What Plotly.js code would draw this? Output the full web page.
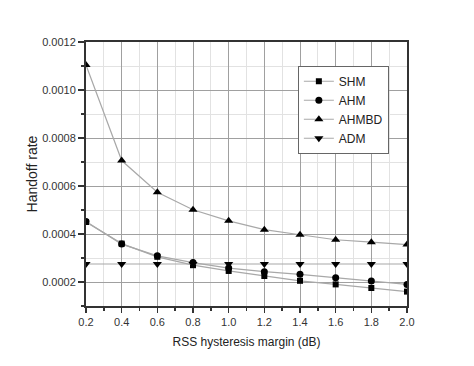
<!DOCTYPE html>
<html>
<head>
<meta charset="utf-8">
<script src="https://cdn.plot.ly/plotly-3.0.1.min.js"></script>
<style>html,body{margin:0;padding:0;background:#fff;}#chart{width:474px;height:366px;}</style>
</head>
<body>
<div id="chart"></div>
<script>
const margins = [0.2, 0.4, 0.6, 0.8, 1.0, 1.2, 1.4, 1.6, 1.8, 2.0];
const shm   = [0.000450, 0.000360, 0.000305, 0.000270, 0.000246, 0.000225, 0.000205, 0.000190, 0.000175, 0.000160];
const ahm   = [0.000452, 0.000358, 0.000309, 0.000281, 0.000258, 0.000243, 0.000232, 0.000218, 0.000204, 0.000190];
const ahmbd = [0.001104, 0.000706, 0.000574, 0.000501, 0.000455, 0.000418, 0.000397, 0.000376, 0.000366, 0.000356];
const adm   = [0.000275, 0.000275, 0.000275, 0.000275, 0.000275, 0.000275, 0.000275, 0.000275, 0.000275, 0.000275];
const yTickVals = [0.0002, 0.0004, 0.0006, 0.0008, 0.0010, 0.0012];
const yTickText = ['0.0002', '0.0004', '0.0006', '0.0008', '0.0010', '0.0012'];
const xTickVals = [0.2, 0.4, 0.6, 0.8, 1.0, 1.2, 1.4, 1.6, 1.8, 2.0];
const xTickText = ['0.2', '0.4', '0.6', '0.8', '1.0', '1.2', '1.4', '1.6', '1.8', '2.0'];

function tr(name, y, symbol, size) {
  return {
    x: margins, y: y, name: name, type: 'scatter', mode: 'lines+markers',
    line: {color: '#a8a8a8', width: 1.2},
    marker: {symbol: symbol, size: size, color: '#000'}
  };
}
const data = [
  tr('SHM', shm, 'square', 6),
  tr('AHM', ahm, 'circle', 7),
  tr('AHMBD', ahmbd, 'triangle-up', 8),
  tr('ADM', adm, 'triangle-down', 8)
];
const regular = 'Liberation Sans, Arial, sans-serif';
const layout = {
  width: 474, height: 366,
  margin: {l: 86, r: 67, t: 42, b: 60},
  paper_bgcolor: '#fff', plot_bgcolor: '#fff',
  font: {family: regular, color: '#333'},
  showlegend: true,
  legend: {
    x: 0.66, y: 0.91, xanchor: 'left', yanchor: 'top',
    bordercolor: '#666', borderwidth: 1, bgcolor: '#fff',
    font: {family: regular, size: 12, color: '#222'},
    tracegroupgap: 0, itemwidth: 30
  },
  xaxis: {
    range: [0.2, 2.0],
    tickmode: 'array', tickvals: xTickVals, ticktext: xTickText,
    ticks: 'outside', ticklen: 5, tickwidth: 1.5, tickcolor: '#333',
    tickfont: {family: regular, size: 11, color: '#333'},
    showline: true, linecolor: '#333', linewidth: 2, mirror: true,
    showgrid: true, gridcolor: '#a0a0a0', gridwidth: 1,
    zeroline: false,
    minor: {dtick: 0.1, tick0: 0.1, ticks: 'outside', ticklen: 3, tickcolor: '#333', showgrid: true, gridcolor: '#e2e2e2', gridwidth: 1},
    title: {text: 'RSS hysteresis margin (dB)', font: {family: regular, size: 12, color: '#222'}, standoff: 10}
  },
  yaxis: {
    range: [0.0001, 0.0012],
    tickmode: 'array', tickvals: yTickVals, ticktext: yTickText,
    ticks: 'outside', ticklen: 6, tickwidth: 1.5, tickcolor: '#333',
    tickfont: {family: regular, size: 11, color: '#333'},
    showline: true, linecolor: '#333', linewidth: 2, mirror: true,
    showgrid: true, gridcolor: '#a0a0a0', gridwidth: 1,
    zeroline: false,
    minor: {dtick: 0.0001, tick0: 0.0001, ticks: 'outside', ticklen: 3, tickcolor: '#333', showgrid: true, gridcolor: '#e2e2e2', gridwidth: 1},
    title: {text: 'Handoff rate', font: {family: regular, size: 14, color: '#222'}, standoff: 1}
  }
};
Plotly.newPlot('chart', data, layout, {displayModeBar: false, staticPlot: true});
</script>
</body>
</html>
